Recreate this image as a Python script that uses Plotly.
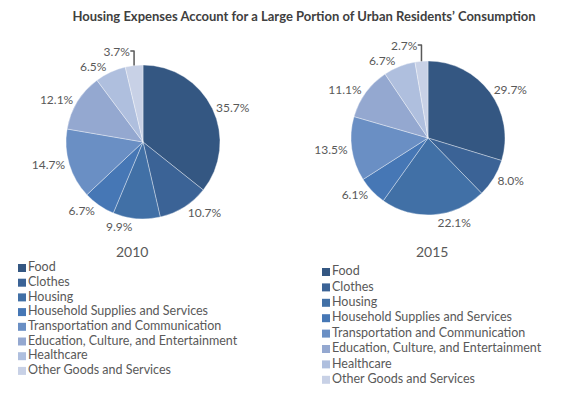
import plotly.graph_objects as go

categories = ["Food", "Clothes", "Housing", "Household Supplies and Services",
              "Transportation and Communication", "Education, Culture, and Entertainment",
              "Healthcare", "Other Goods and Services"]
values_2010 = [35.7, 10.7, 9.9, 6.7, 14.7, 12.1, 6.5, 3.7]
values_2015 = [29.7, 8.0, 22.1, 6.1, 13.5, 11.1, 6.7, 2.7]
years = ["2010", "2015"]
title_text = "Housing Expenses Account for a Large Portion of Urban Residents\u2019 Consumption"

colors = ["#345782", "#3B6396", "#4170A6", "#4677B5", "#6A8FC4", "#94A8D0", "#AFBFDE", "#C8D1E6"]
W, H = 580, 396
FONT = "Lato, 'Open Sans', sans-serif"

def px_x(p):
    return p / W

def px_y(p):
    return 1 - p / H

fig = go.Figure()
pies = [
    (values_2010, (143, 142)),
    (values_2015, (428, 138)),
]
R = 77
for vals, (cx, cy) in pies:
    fig.add_trace(go.Pie(
        labels=categories, values=vals, sort=False, direction="clockwise", rotation=0,
        marker=dict(colors=colors, line=dict(color="rgba(255,255,255,0.6)", width=0.6)),
        textposition="outside", texttemplate="%{value:.1f}%",
        textfont=dict(size=12, color="#595959", family=FONT),
        domain=dict(x=[px_x(cx - R), px_x(cx + R)], y=[px_y(cy + R), px_y(cy - R)]),
        showlegend=False, hoverinfo="label+value",
    ))

# legends drawn as scatter markers on a hidden pixel-scaled axis
legend_layout = [(22, 268, 14.7), (326, 272, 15.4)]
for (lx, ly, step) in legend_layout:
    ys = [ly + i * step for i in range(len(categories))]
    fig.add_trace(go.Scatter(
        x=[lx] * len(categories), y=ys, mode="markers+text",
        marker=dict(symbol="square", size=8, color=colors, line=dict(width=0)),
        text=categories, textposition="middle right",
        textfont=dict(size=12.5, color="#595959", family=FONT),
        showlegend=False, hoverinfo="skip", cliponaxis=False,
    ))

fig.update_layout(
    width=W, height=H, margin=dict(l=0, r=0, t=0, b=0),
    paper_bgcolor="white", plot_bgcolor="rgba(0,0,0,0)",
    font=dict(family=FONT, color="#595959"),
    showlegend=False,
    xaxis=dict(range=[0, W], domain=[0, 1], visible=False, fixedrange=True),
    yaxis=dict(range=[H, 0], domain=[0, 1], visible=False, fixedrange=True),
    title=dict(text="<b>" + title_text + "</b>", x=px_x(304), xanchor="center",
               y=px_y(16), yanchor="middle", font=dict(size=13, color="#404040", family=FONT)),
    annotations=[
        dict(text=years[0], x=px_x(132), y=px_y(251), xref="paper", yref="paper",
             xanchor="center", yanchor="middle", showarrow=False,
             font=dict(size=14, color="#595959", family=FONT)),
        dict(text=years[1], x=px_x(432), y=px_y(251), xref="paper", yref="paper",
             xanchor="center", yanchor="middle", showarrow=False,
             font=dict(size=14, color="#595959", family=FONT)),
    ],
)
fig.write_html("out.html", config={"displayModeBar": False},
               post_script="document.body.style.margin='0';")
